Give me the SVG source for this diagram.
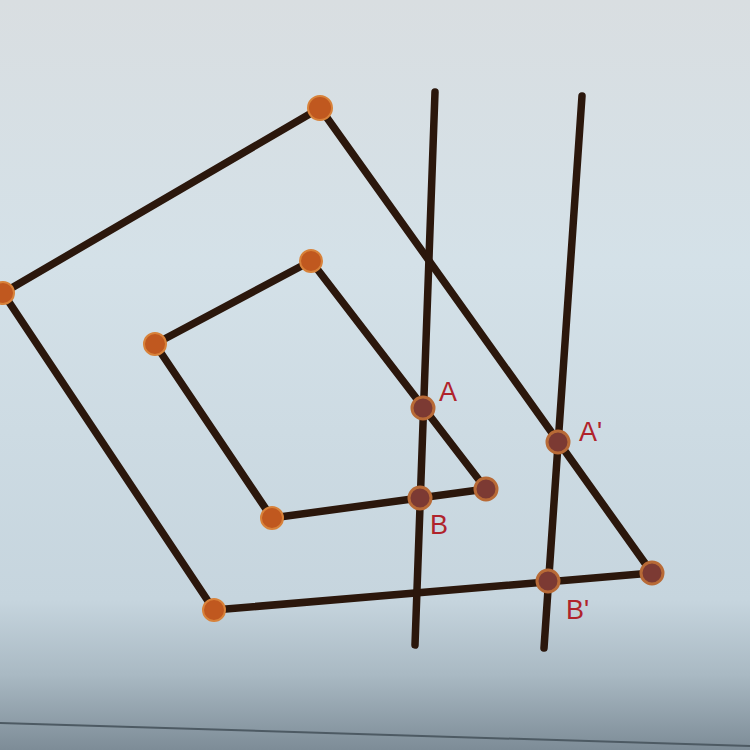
<svg xmlns="http://www.w3.org/2000/svg" width="750" height="750" viewBox="0 0 750 750">
<defs>
<linearGradient id="bg" x1="0" y1="0" x2="0" y2="1">
<stop offset="0" stop-color="#d9dee1"/>
<stop offset="0.35" stop-color="#d4e1e8"/>
<stop offset="0.8" stop-color="#c6d5de"/>
<stop offset="0.9" stop-color="#a9b9c3"/>
<stop offset="1" stop-color="#7d8c97"/>
</linearGradient>
<style>
.seg{stroke:#2b170c;stroke-width:7.5;stroke-linecap:round;fill:none}
.v{fill:#c0581f;stroke:#d8823a;stroke-width:2}
.p{fill:#7c3a33;stroke:#b86a36;stroke-width:3}
.lbl{font-family:"Liberation Sans",Arial,sans-serif;font-size:27px;fill:#b0232b}
</style>
</defs>
<rect width="750" height="750" fill="url(#bg)"/>
<line x1="0" y1="723" x2="750" y2="746" stroke="#4d5a63" stroke-width="2"/>
<g id="connectors">
<line class="seg" x1="320" y1="108" x2="3" y2="293"/>
<line class="seg" x1="3" y1="293" x2="214" y2="610"/>
<line class="seg" x1="214" y1="610" x2="652" y2="573"/>
<line class="seg" x1="652" y1="573" x2="320" y2="108"/>
<line class="seg" x1="311" y1="261" x2="155" y2="344"/>
<line class="seg" x1="155" y1="344" x2="272" y2="518"/>
<line class="seg" x1="272" y1="518" x2="486" y2="489"/>
<line class="seg" x1="486" y1="489" x2="311" y2="261"/>
<line class="seg" x1="435" y1="92" x2="415" y2="645"/>
<line class="seg" x1="582" y1="96" x2="544" y2="648"/>
</g>
<g id="outer-1"><circle class="v" cx="320" cy="108" r="12"/></g>
<g id="outer-2"><circle class="v" cx="3" cy="293" r="11"/></g>
<g id="outer-3"><circle class="v" cx="214" cy="610" r="11"/></g>
<g id="outer-4"><circle class="p" cx="652" cy="573" r="11"/></g>
<g id="inner-1"><circle class="v" cx="311" cy="261" r="11"/></g>
<g id="inner-2"><circle class="v" cx="155" cy="344" r="11"/></g>
<g id="inner-3"><circle class="v" cx="272" cy="518" r="11"/></g>
<g id="inner-4"><circle class="p" cx="486" cy="489" r="11"/></g>
<g id="A"><circle class="p" cx="423" cy="408" r="11"/><text class="lbl" x="439" y="401">A</text></g>
<g id="B"><circle class="p" cx="420" cy="498" r="11"/><text class="lbl" x="430" y="534">B</text></g>
<g id="A-prime"><circle class="p" cx="558" cy="442" r="11"/><text class="lbl" x="579" y="441">A'</text></g>
<g id="B-prime"><circle class="p" cx="548" cy="581" r="11"/><text class="lbl" x="566" y="619">B'</text></g>
</svg>
